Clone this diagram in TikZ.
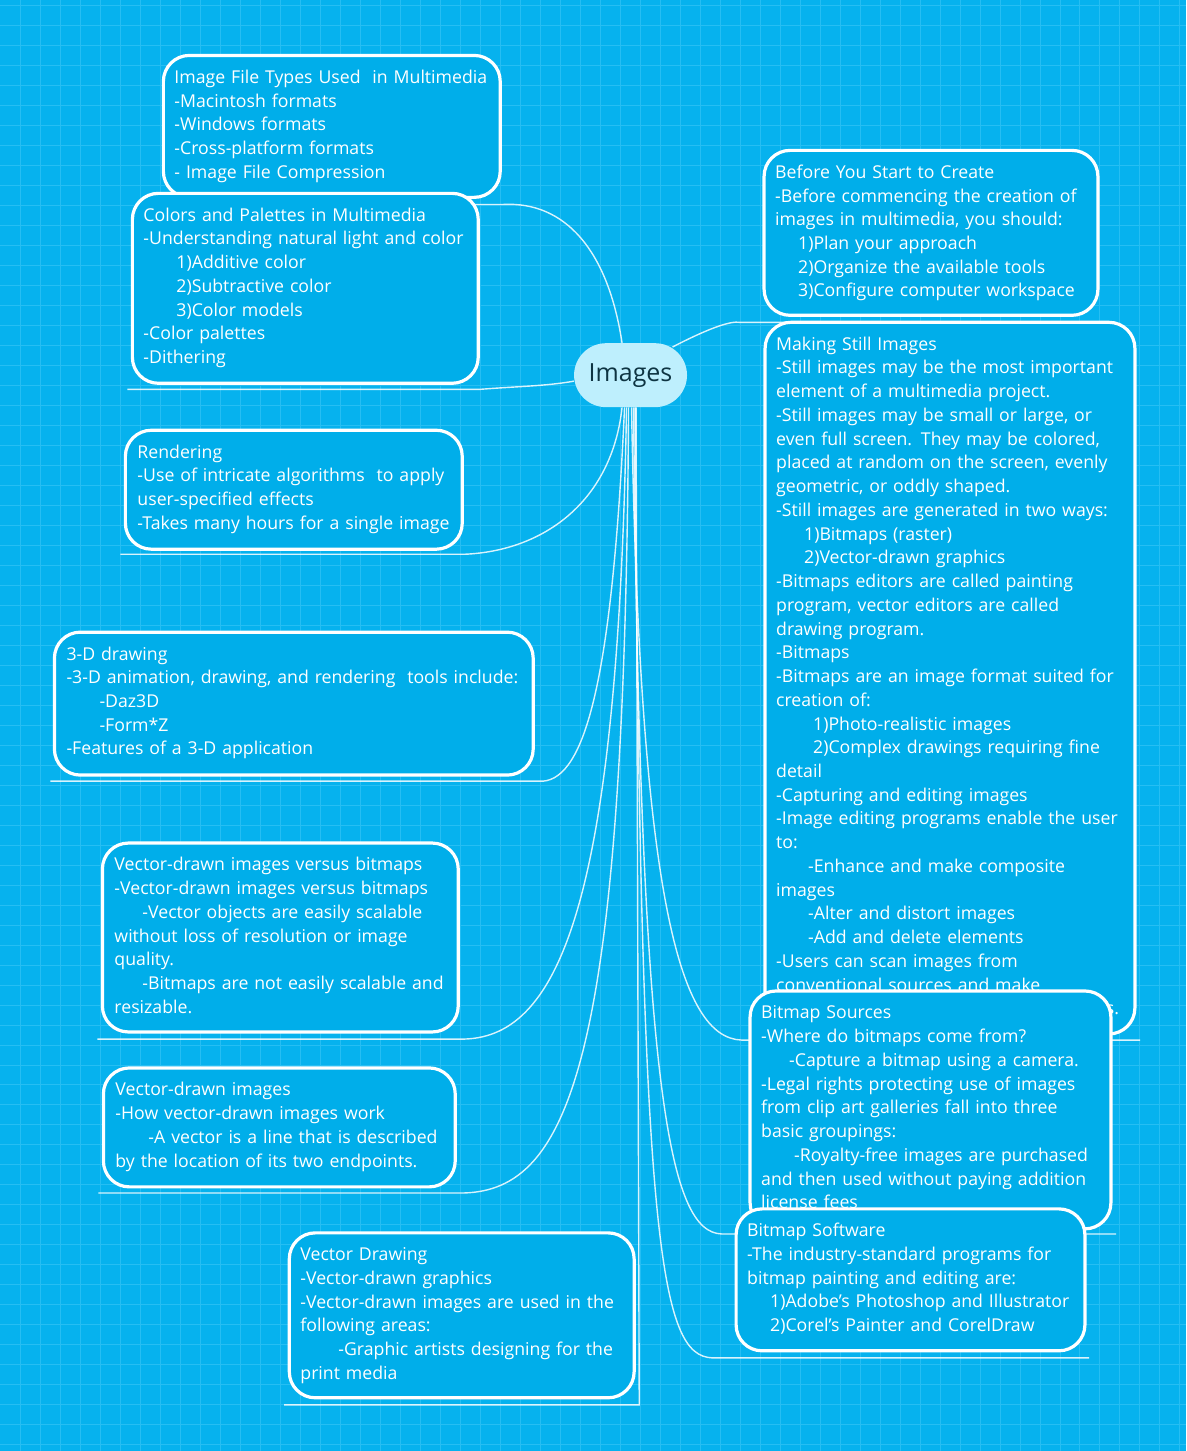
\documentclass[tikz,border=0pt]{standalone}
\usepackage{fontspec}
\setmainfont{Open Sans}
\usetikzlibrary{calc}
\definecolor{bgc}{RGB}{6,178,238}
\definecolor{gridc}{RGB}{38,190,243}
\definecolor{boxc}{RGB}{0,174,234}
\definecolor{ctrc}{RGB}{190,239,253}
\definecolor{ctrt}{RGB}{14,52,66}
\pgfdeclarelayer{gridl}
\pgfdeclarelayer{connl}
\pgfsetlayers{gridl,connl,main}
\newcommand{\ind}[1]{\hspace*{#1pt}}
\begin{document}
\begin{tikzpicture}[x=1pt,y=-1pt,
  tbox/.style={draw=white, line width=3.2pt, fill=boxc, rounded corners=26pt, anchor=north west, inner sep=0pt},
  txt/.style={anchor=base west, text=white, font=\fontsize{17.7}{23.75}\selectfont, text width=500pt, align=left, inner sep=0pt},
  conn/.style={draw=white, line width=1.4pt, opacity=0.85},
  ctrnode/.style={fill=ctrc, rounded corners=32pt, minimum width=113pt, minimum height=64pt, inner sep=0pt, text=ctrt, font=\fontsize{25}{30}\selectfont}]

\begin{pgfonlayer}{gridl}
\fill[bgc] (0,0) rectangle (1186,1451);
\foreach \gx in {20,40,...,1180} {\draw[gridc, line width=0.7pt] (\gx,0) -- (\gx,1451);}
\foreach \gy in {5,25,...,1445} {\draw[gridc, line width=0.7pt] (0,\gy) -- (1186,\gy);}
\end{pgfonlayer}
\useasboundingbox (0,0) rectangle (1186,1451);

\node[ctrnode] (ctr) at (630.5,375) {\raisebox{-2pt}{Images}};

% Image File Types
\node[tbox, minimum width=337pt, minimum height=142pt] (ft) at (161.5,53.5) {};
\node[txt] (ftt) at (174,83) {Image File Types Used\ \ in Multimedia\\-Macintosh formats\\-Windows formats\\-Cross-platform formats\\- Image File Compression};

% Colors
\node[tbox, minimum width=346pt, minimum height=190pt] (col) at (130.5,191.5) {};
\node[txt] (colt) at (143,221) {Colors and Palettes in Multimedia\\-Understanding natural light and color\\\ind{33}1)Additive color\\\ind{33}2)Subtractive color\\\ind{33}3)Color models\\-Color palettes\\-Dithering};

% Rendering
\node[tbox, minimum width=337pt, minimum height=119pt] (ren) at (123.5,428.5) {};
\node[txt] (rent) at (137,458) {Rendering\\-Use of intricate algorithms\ \ to apply\\user-specified effects\\-Takes many hours for a single image};

% 3-D
\node[tbox, minimum width=479pt, minimum height=143pt] (thr) at (52.5,630.5) {};
\node[txt] (thrt) at (66,660) {3-D drawing\\-3-D animation, drawing, and rendering\ \ tools include:\\\ind{33}-Daz3D\\\ind{33}-Form*Z\\-Features of a 3-D application};

% Vector vs bitmaps
\node[tbox, minimum width=356pt, minimum height=189pt] (vvb) at (100.5,841.5) {};
\node[txt] (vvbt) at (114,871) {Vector-drawn images versus bitmaps\\-Vector-drawn images versus bitmaps\\\ind{28}-Vector objects are easily scalable\\without loss of resolution or image\\quality.\\\ind{28}-Bitmaps are not easily scalable and\\resizable.};

% Vector-drawn images
\node[tbox, minimum width=352pt, minimum height=119pt] (vim) at (101.5,1066.5) {};
\node[txt] (vimt) at (115,1096) {Vector-drawn images\\-How vector-drawn images work\\\ind{33}-A vector is a line that is described\\by the location of its two endpoints.};

% Vector Drawing
\node[tbox, minimum width=345pt, minimum height=165pt] (vdr) at (287.5,1231.5) {};
\node[txt] (vdrt) at (300,1261) {Vector Drawing\\-Vector-drawn graphics\\-Vector-drawn images are used in the\\following areas:\\\ind{38}-Graphic artists designing for the\\print media};

% Before You Start
\node[tbox, minimum width=334pt, minimum height=165pt] (bys) at (762.5,148.5) {};
\node[txt] (byst) at (775,178) {Before You Start to Create\\-Before commencing the creation of\\images in multimedia, you should:\\\ind{23}1)Plan your approach\\\ind{23}2)Organize the available tools\\\ind{23}3)Configure computer workspace};

% Making Still Images
\node[tbox, minimum width=370pt, minimum height=712pt] (msi) at (763.5,320.5) {};
\node[txt] (msit) at (776,350) {Making Still Images\\-Still images may be the most important\\element of a multimedia project.\\-Still images may be small or large, or\\even full screen. They may be colored,\\placed at random on the screen, evenly\\geometric, or oddly shaped.\\-Still images are generated in two ways:\\\ind{28}1)Bitmaps (raster)\\\ind{28}2)Vector-drawn graphics\\-Bitmaps editors are called painting\\program, vector editors are called\\drawing program.\\-Bitmaps\\-Bitmaps are an image format suited for\\creation of:\\\ind{37}1)Photo-realistic images\\\ind{37}2)Complex drawings requiring fine\\detail\\-Capturing and editing images\\-Image editing programs enable the user\\to:\\\ind{32}-Enhance and make composite\\images\\\ind{32}-Alter and distort images\\\ind{32}-Add and delete elements\\-Users can scan images from\\conventional sources and make\\\makebox[343pt][l]{modifications with image editing\hfill tools.}};

% Bitmap Sources
\node[tbox, minimum width=361pt, minimum height=238pt] (bso) at (748.5,989.5) {};
\node[txt] (bsot) at (761,1019) {Bitmap Sources\\-Where do bitmaps come from?\\\ind{28}-Capture a bitmap using a camera.\\-Legal rights protecting use of images\\from clip art galleries fall into three\\basic groupings:\\\ind{33}-Royalty-free images are purchased\\and then used without paying addition\\license fees};

% Bitmap Software
\node[tbox, minimum width=349pt, minimum height=142pt] (bsw) at (734.5,1207.5) {};
\node[txt] (bswt) at (747,1237) {Bitmap Software\\-The industry-standard programs for\\bitmap painting and editing are:\\\ind{23}1)Adobe’s Photoshop and Illustrator\\\ind{23}2)Corel’s Painter and CorelDraw};

\begin{pgfonlayer}{connl}
\draw[conn] ([xshift=-8.5pt]ctr.north) .. controls (608,250) and (565,201) .. ($(ft.south east)+(1.5,5.5)$) -- ($(ft.south west)+(-1.5,5.5)$);
\draw[conn] ([yshift=-6pt]ctr.west) .. controls (545,386) and (520,386) .. ($(col.south east)+(0,4.5)$) -- ($(col.south west)+(-3.5,4.5)$);
\draw[conn] ([xshift=-8.5pt]ctr.south) .. controls (612,500) and (545,551) .. ($(ren.south east)+(0,3.5)$) -- ($(ren.south west)+(-3.5,3.5)$);
\draw[conn] ([xshift=-6pt]ctr.south) .. controls (612,680) and (585,778) .. ($(thr.south east)+(8,4.5)$) -- ($(thr.south west)+(-2.5,4.5)$);
\draw[conn] ([xshift=-4pt]ctr.south) .. controls (618,900) and (560,1036) .. ($(vvb.south east)+(5,5.5)$) -- ($(vvb.south west)+(-3.5,5.5)$);
\draw[conn] ([xshift=-2pt]ctr.south) .. controls (625,1060) and (570,1190) .. ($(vim.south east)+(7,4.5)$) -- ($(vim.south west)+(-3.5,4.5)$);
\draw[conn] ([xshift=5.5pt]ctr.south) -- ($(vdr.south east)+(3.5,5.5)$) -- ($(vdr.south west)+(-3.5,5.5)$);
\draw[conn] ($(ctr.north)+(42,4)$) .. controls (705,330) and (730,320) .. ($(bys.south west)+(-22,5.5)$) -- ($(bys.south east)+(3,5.5)$);
\draw[conn] ([xshift=1pt]ctr.south) .. controls (640,900) and (680,1038) .. ($(msi.south west)+(-22,4.5)$) -- ($(msi.south east)+(3.5,4.5)$);
\draw[conn] ([xshift=3pt]ctr.south) .. controls (640,1100) and (670,1232) .. ($(bso.south west)+(-27,3.5)$) -- ($(bso.south east)+(3.5,3.5)$);
\draw[conn] ([xshift=4.5pt]ctr.south) .. controls (640,1250) and (660,1356) .. ($(bsw.south west)+(-22,5.5)$) -- ($(bsw.south east)+(2.5,5.5)$);
\end{pgfonlayer}
\end{tikzpicture}
\end{document}
